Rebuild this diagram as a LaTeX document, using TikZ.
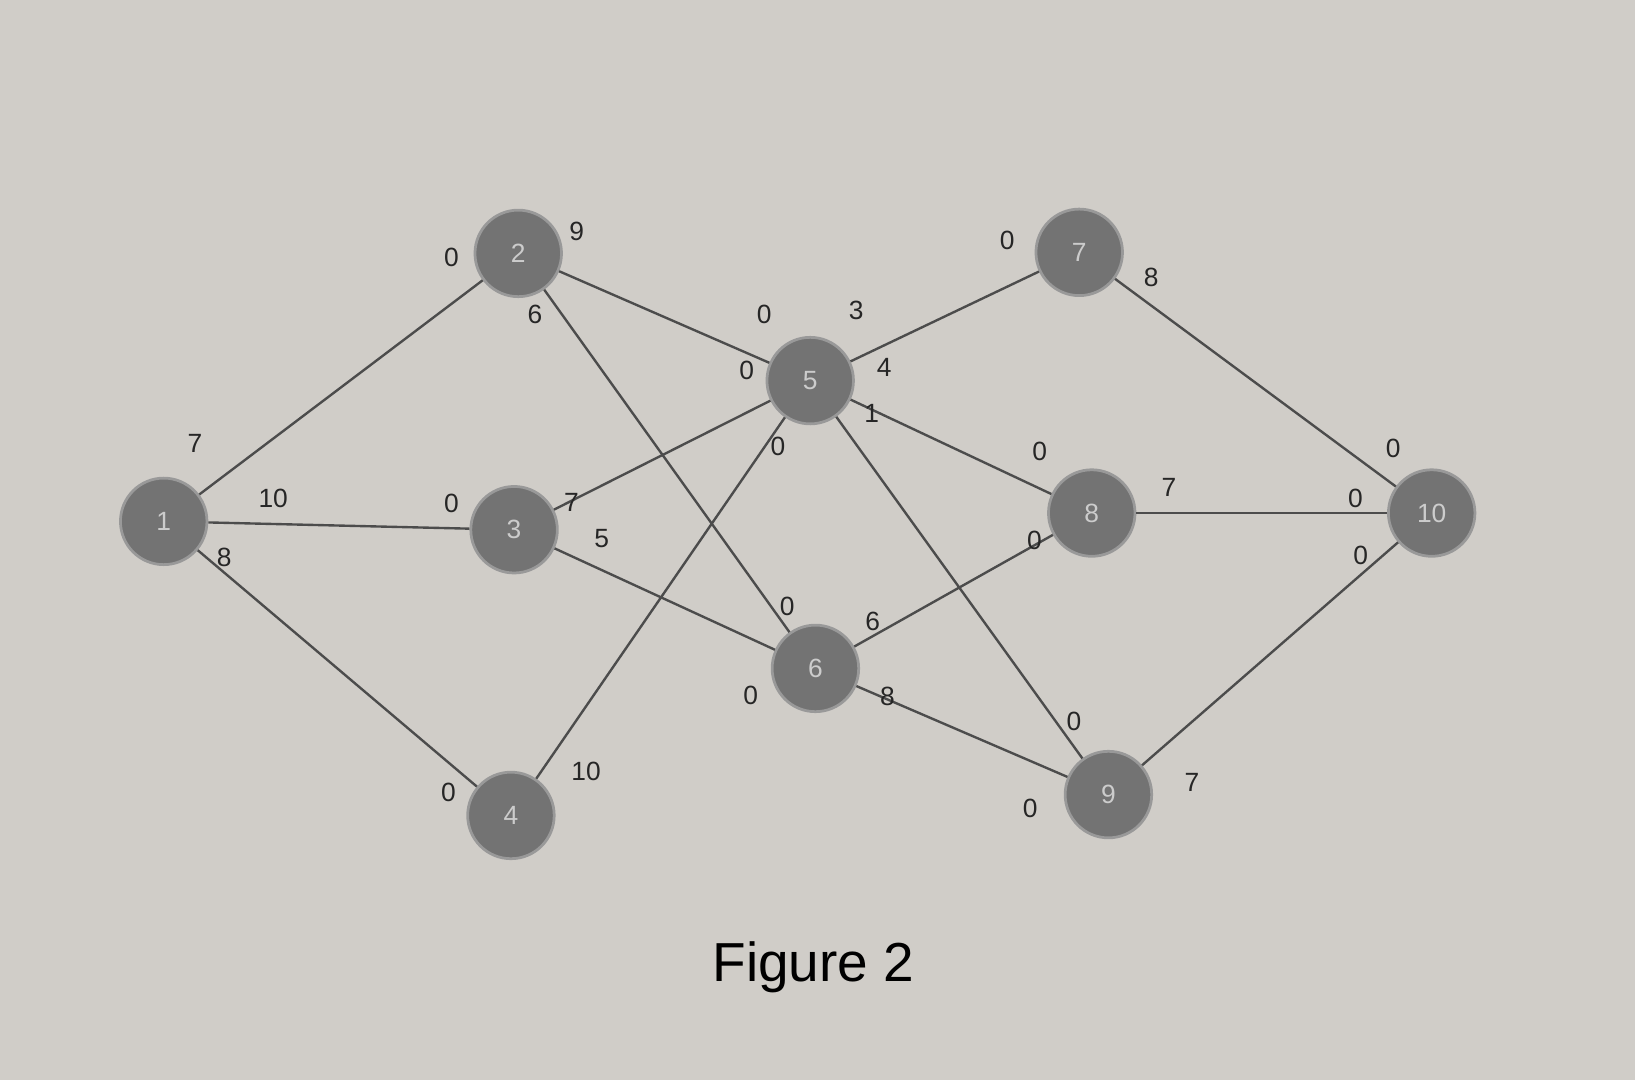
\documentclass[tikz,border=0pt]{standalone}
\usepackage{fontspec}
\setmainfont{Liberation Sans}
\begin{document}
\begin{tikzpicture}[x=0.02cm,y=-0.02cm,
  nd/.style={circle,fill=black!55,draw=black!40,line width=1.5pt,minimum size=1.66cm,inner sep=0pt,text=black!20,font=\Large},
  ed/.style={draw=black!70,line width=1.3pt},
  lb/.style={font=\Large,text=black!85}]
\fill[color={rgb,255:red,208;green,205;blue,200}] (0,0) rectangle (1568,1036);
\useasboundingbox (0,0) rectangle (1568,1036);
\node[nd] (n1) at (157,500) {1};
\node[nd] (n2) at (497,243) {2};
\node[nd] (n3) at (493,508) {3};
\node[nd] (n4) at (490,782) {4};
\node[nd] (n5) at (777,365) {5};
\node[nd] (n6) at (782,641) {6};
\node[nd] (n7) at (1035,242) {7};
\node[nd] (n8) at (1047,492) {8};
\node[nd] (n9) at (1063,762) {9};
\node[nd] (n10) at (1373,492) {10};
\foreach \a/\b in {n1/n2,n1/n3,n1/n4,n2/n5,n2/n6,n3/n5,n3/n6,n4/n5,n5/n7,n5/n8,n5/n9,n6/n8,n6/n9,n7/n10,n8/n10,n9/n10}
  \draw[ed] (\a) -- (\b);
\foreach \x/\y/\t in {187/425/7,262/478/10,215/535/8,433/247/0,553/222/9,513/302/6,
  433/483/0,548/482/7,577/516/5,430/760/0,562/740/10,733/302/0,821/298/3,716/355/0,
  848/352/4,836/396/1,746/428/0,755/582/0,837/596/6,720/667/0,851/668/8,966/231/0,
  1104/266/8,997/433/0,992/518/0,1121/467/7,1030/692/0,988/775/0,1143/750/7,
  1336/430/0,1300/478/0,1305/533/0}
  \node[lb] at (\x,\y) {\t};
\node[font=\fontsize{30}{36}\selectfont] (cap) at (780,928) {Figure 2};
\end{tikzpicture}
\end{document}
